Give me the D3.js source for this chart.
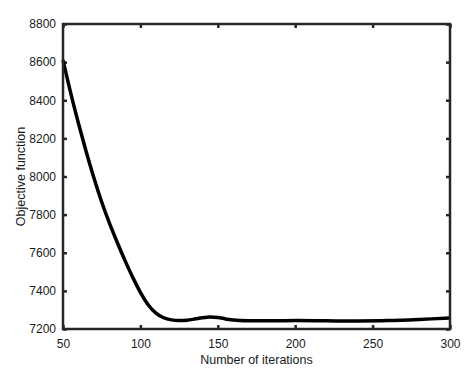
<!DOCTYPE html>
<html>
<head>
<meta charset="utf-8">
<script src="https://cdn.jsdelivr.net/npm/d3@7"></script>
<style>
  body { margin: 0; background: #fff; }
  text { font-family: "Liberation Sans", Arial, sans-serif; }
</style>
</head>
<body>
<div id="chart"></div>
<script>
// values
var iterations = [50, 55, 60, 65, 70, 75, 80, 85, 90, 95, 100, 105, 110, 115, 120, 125, 130, 135, 140, 145, 150, 155, 160, 170, 180, 200, 220, 240, 260, 280, 300];
var objective = [8610, 8437, 8278, 8130, 7992, 7866, 7755, 7655, 7560, 7472, 7392, 7327, 7283, 7259, 7248, 7244, 7246, 7252, 7259, 7263, 7260, 7253, 7247, 7243, 7243, 7244, 7243, 7242, 7244, 7250, 7258];
var xTicks = [50, 100, 150, 200, 250, 300];
var yTicks = [7200, 7400, 7600, 7800, 8000, 8200, 8400, 8600, 8800];

var margin = {top: 24, right: 24, bottom: 57, left: 63},
    width = 474 - margin.left - margin.right,
    height = 386 - margin.top - margin.bottom;

var svg = d3.select("#chart").append("svg")
  .attr("width", 474)
  .attr("height", 386)
  .append("g")
    .attr("transform", "translate(" + margin.left + " " + margin.top + ")");

var x = d3.scaleLinear()
  .domain([50, 300])
  .range([0, width]);

var y = d3.scaleLinear()
  .domain([7200, 8800])
  .range([height, 0]);

var axisColor = "#262626";

var xAxis = d3.axisBottom(x)
  .tickValues(xTicks)
  .tickFormat(d3.format("d"))
  .tickSizeInner(-4)
  .tickSizeOuter(0)
  .tickPadding(10);

var yAxis = d3.axisLeft(y)
  .tickValues(yTicks)
  .tickFormat(d3.format("d"))
  .tickSizeInner(-4)
  .tickSizeOuter(0)
  .tickPadding(7);

var xg = svg.append("g")
  .attr("transform", "translate(0," + height + ")")
  .call(xAxis);

var yg = svg.append("g")
  .call(yAxis);

[xg, yg].forEach(function(g){
  g.select(".domain").remove();
  g.selectAll(".tick line").attr("stroke", axisColor).attr("stroke-width", 2.5);
  g.selectAll(".tick text")
    .attr("fill", "#1a1a1a")
    .style("font-size", "12px")
    .style("font-family", "'Liberation Sans', Arial, sans-serif");
});

// ticks on the top and right edges too
svg.append("g")
  .call(d3.axisTop(x).tickValues(xTicks).tickSizeInner(-4).tickSizeOuter(0).tickFormat(""))
  .call(function(g){
    g.select(".domain").remove();
    g.selectAll(".tick line").attr("stroke", axisColor).attr("stroke-width", 2.5);
  });

svg.append("g")
  .attr("transform", "translate(" + width + ",0)")
  .call(d3.axisRight(y).tickValues(yTicks).tickSizeInner(-4).tickSizeOuter(0).tickFormat(""))
  .call(function(g){
    g.select(".domain").remove();
    g.selectAll(".tick line").attr("stroke", axisColor).attr("stroke-width", 2.5);
  });

var line = d3.line()
  .x(function(d, i){ return x(iterations[i]); })
  .y(function(d){ return y(d); })
  .curve(d3.curveCatmullRom.alpha(0.5));

svg.append("path")
  .datum(objective)
  .attr("fill", "none")
  .attr("stroke", "#000")
  .attr("stroke-width", 3.5)
  .attr("stroke-linejoin", "round")
  .attr("d", line);

// box
svg.append("rect")
  .attr("x", 0)
  .attr("y", 0)
  .attr("width", width)
  .attr("height", height)
  .attr("fill", "none")
  .attr("stroke", axisColor)
  .attr("stroke-width", 2.5);

svg.append("text")
  .attr("x", width / 2)
  .attr("y", height + 35)
  .attr("text-anchor", "middle")
  .attr("fill", "#1a1a1a")
  .style("font-size", "12.5px")
  .text("Number of iterations");

svg.append("text")
  .attr("transform", "translate(" + (-38) + "," + (height / 2) + ") rotate(-90)")
  .attr("text-anchor", "middle")
  .attr("fill", "#1a1a1a")
  .style("font-size", "12.5px")
  .text("Objective function");
</script>
</body>
</html>
